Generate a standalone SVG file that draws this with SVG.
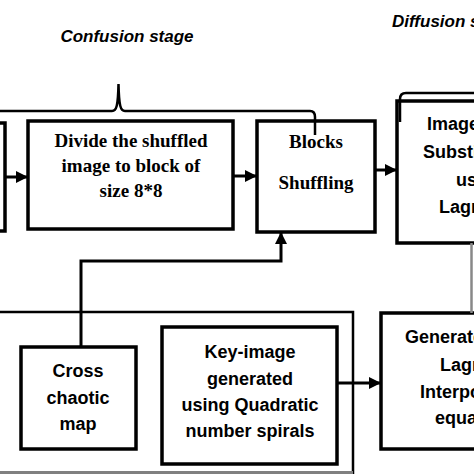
<svg xmlns="http://www.w3.org/2000/svg" width="474" height="474" viewBox="0 0 474 474">
<defs>
<style>
.box{fill:#fff;stroke:#000;stroke-width:3.5}
.ln{fill:none;stroke:#000;stroke-width:3}
.thin{fill:none;stroke:#000;stroke-width:2.5}
.tr{font-family:"Liberation Serif","Times New Roman",serif;font-weight:bold;font-size:19px;fill:#000;text-anchor:middle}
.sn{font-family:"Liberation Sans",Arial,sans-serif;font-weight:bold;font-size:18px;fill:#000}
.mid{text-anchor:middle}
.ti{font-family:"Liberation Sans",Arial,sans-serif;font-weight:bold;font-style:italic;font-size:17px;fill:#000}
</style>
<marker id="ah" markerUnits="userSpaceOnUse" markerWidth="12" markerHeight="12" viewBox="0 0 12 12" refX="11" refY="6" orient="auto">
<path d="M0,0 L12,6 L0,12 Z" fill="#000"/>
</marker>
</defs>
<rect width="474" height="474" fill="#fff"/>

<text class="ti mid" x="127" y="42">Confusion stage</text>
<text class="ti" x="392" y="27">Diffusion stage</text>

<g id="outer-frame">
<path class="thin" d="M-5,312 H353 V476"/>
<line x1="-5" y1="472.5" x2="353" y2="472.5" stroke="#808080" stroke-width="3"/>
</g>

<g id="left-box">
<rect class="box" x="-60" y="123" width="65" height="108"/>
</g>

<g id="divide-box">
<rect class="box" x="28" y="121" width="205" height="108"/>
<text class="tr" x="131" y="147">Divide the shuffled</text>
<text class="tr" x="131" y="172">image to block of</text>
<text class="tr" x="131" y="197">size 8*8</text>
</g>

<g id="blocks-box">
<rect class="box" x="257" y="121" width="118" height="111"/>
<text class="tr" x="316" y="148">Blocks</text>
<text class="tr" x="316" y="189">Shuffling</text>
</g>

<g id="substitution-box">
<rect class="box" x="397" y="101" width="160" height="142"/>
<text class="sn" x="427" y="130">Image pixel</text>
<text class="sn" x="423" y="158">Substitution</text>
<text class="sn" x="456" y="186">using</text>
<text class="sn" x="439" y="213">Lagrange</text>
</g>

<g id="cross-box">
<rect class="box" x="21" y="347" width="115" height="102"/>
<text class="sn mid" x="78" y="377">Cross</text>
<text class="sn mid" x="78" y="404">chaotic</text>
<text class="sn mid" x="78" y="430">map</text>
</g>

<g id="key-box">
<rect class="box" x="162" y="327" width="175" height="137"/>
<text class="sn mid" x="250" y="358">Key-image</text>
<text class="sn mid" x="250" y="385">generated</text>
<text class="sn mid" x="250" y="411">using Quadratic</text>
<text class="sn mid" x="250" y="437">number spirals</text>
</g>

<g id="generate-box">
<rect class="box" x="381" y="313" width="200" height="136"/>
<text class="sn" x="405" y="343">Generate the</text>
<text class="sn" x="440" y="371">Lagrange</text>
<text class="sn" x="420" y="398">Interpolation</text>
<text class="sn" x="435" y="424">equation</text>
</g>

<g id="connectors">
<path class="thin" d="M-5,111 H112 C116.5,111 118,106 118.5,84 C119,106 120.5,111 125,111 H310 Q315,111 315,117 V135"/>
<path class="thin" d="M400,122 V99 Q400,93 406,93 H480"/>
<line class="ln" x1="5" y1="177" x2="27" y2="177" marker-end="url(#ah)"/>
<line class="ln" x1="233" y1="176" x2="256" y2="176" marker-end="url(#ah)"/>
<line class="ln" x1="375" y1="170" x2="396" y2="170" marker-end="url(#ah)"/>
<path class="ln" d="M81,347 V261 H281 V233" marker-end="url(#ah)"/>
<line class="ln" x1="337" y1="383" x2="380" y2="383" marker-end="url(#ah)"/>
<line x1="471.5" y1="243" x2="471.5" y2="313" stroke="#888" stroke-width="2.5"/>
</g>
</svg>
